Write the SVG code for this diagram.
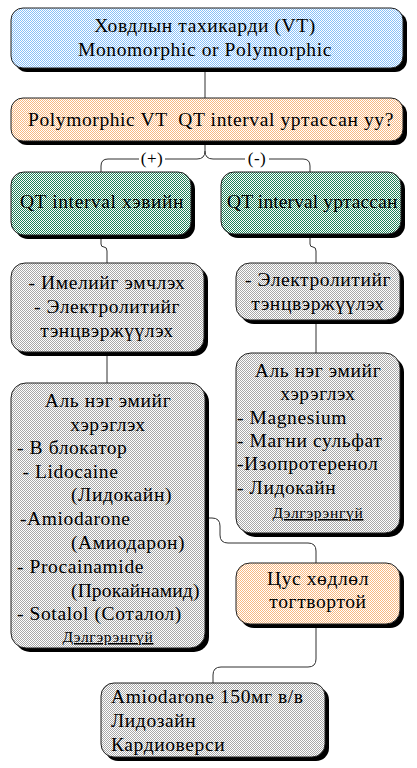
<svg xmlns="http://www.w3.org/2000/svg" width="417" height="768" viewBox="0 0 417 768">
<defs>
<pattern id="pBlue" width="2" height="2" patternUnits="userSpaceOnUse"><rect width="2" height="2" fill="#ffffff"/><rect width="1" height="1" fill="#88c0f8"/><rect x="1" y="1" width="1" height="1" fill="#88c0f8"/></pattern>
<pattern id="pPeach" width="2" height="2" patternUnits="userSpaceOnUse"><rect width="2" height="2" fill="#ffffff"/><rect width="1" height="1" fill="#f8b880"/><rect x="1" y="1" width="1" height="1" fill="#f8b880"/></pattern>
<pattern id="pGreen" width="2" height="2" patternUnits="userSpaceOnUse"><rect width="2" height="2" fill="#ffffff"/><rect width="1" height="1" fill="#1f8058"/><rect x="1" y="1" width="1" height="1" fill="#1f8058"/></pattern>
<pattern id="pGray" width="2" height="2" patternUnits="userSpaceOnUse"><rect width="2" height="2" fill="#ffffff"/><rect width="1" height="1" fill="#a8a8a8"/><rect x="1" y="1" width="1" height="1" fill="#a8a8a8"/></pattern>
</defs>
<style>
.sh{fill:#000}
.bx{stroke:#202020;stroke-width:1}
.blue{fill:url(#pBlue)}
.peach{fill:url(#pPeach)}
.green{fill:url(#pGreen)}
.gray{fill:url(#pGray)}
text{font-family:"Liberation Serif","Times New Roman",serif;font-size:19.5px;letter-spacing:0.6px;fill:#000;white-space:pre}
.c{text-anchor:middle}
.more{font-size:15.5px;letter-spacing:0.7px;text-decoration:underline}
.lbl{font-size:17px;letter-spacing:0.5px}
.conn path{fill:none;stroke:#303030;stroke-width:1}
</style>
<rect width="417" height="768" fill="#fff"/>
<g class="conn" id="connectors">
<path d="M205,68 V98"/>
<path d="M205,141 V151 Q205,159 197,159 H108 Q101,159 101,166 V172"/>
<path d="M205,151 Q205,159 213,159 H303 Q310,159 310,166 V172"/>
<path d="M101,235 V244 Q101,247 104,247 Q107,247 107,251 V263"/>
<path d="M310,234 V244 Q310,247 313,247 Q316,247 316,251 V263"/>
<path d="M107,352 V383"/>
<path d="M316,320 V353"/>
<path d="M205,518 H212 Q220,518 220,526 V535 Q220,543 228,543 H308 Q316,543 316,551 V563"/>
<path d="M316,625 V659 Q316,667 308,667 H221 Q213,667 213,675 V683"/>
<rect x="139" y="150" width="26" height="17" fill="#fff"/>
<rect x="245" y="150" width="24" height="17" fill="#fff"/>
<text class="c lbl" x="152" y="164">(+)</text>
<text class="c lbl" x="257" y="164">(-)</text>
</g>
<g id="n1">
<rect class="sh" x="15" y="12" width="392" height="60" rx="12"/>
<rect class="bx blue" x="11" y="8" width="392" height="60" rx="12"/>
<text class="c" x="205" y="32">Ховдлын тахикарди (VT)</text>
<text class="c" x="205" y="56">Monomorphic or Polymorphic</text>
</g>
<g id="n2">
<rect class="sh" x="15" y="102" width="392" height="43" rx="12"/>
<rect class="bx peach" x="11" y="98" width="392" height="43" rx="12"/>
<text class="c" x="211" y="126" xml:space="preserve">Polymorphic VT  QT interval уртассан уу?</text>
</g>
<g id="n3">
<rect class="sh" x="15" y="176" width="180" height="63" rx="13"/>
<rect class="bx green" x="11" y="172" width="180" height="63" rx="13"/>
<text class="c" x="102" y="208">QT interval хэвийн</text>
</g>
<g id="n4">
<rect class="sh" x="225" y="176" width="180" height="62" rx="13"/>
<rect class="bx green" x="221" y="172" width="180" height="62" rx="13"/>
<text x="227" y="208" textLength="171" lengthAdjust="spacing">QT interval уртассан</text>
</g>
<g id="n5">
<rect class="sh" x="15" y="267" width="193" height="89" rx="14"/>
<rect class="bx gray" x="11" y="263" width="193" height="89" rx="14"/>
<text class="c" x="107" y="289">- Имелийг эмчлэх</text>
<text class="c" x="107" y="313">- Электролитийг</text>
<text class="c" x="107" y="337">тэнцвэржүүлэх</text>
</g>
<g id="n6">
<rect class="sh" x="240" y="267" width="164" height="57" rx="14"/>
<rect class="bx gray" x="236" y="263" width="164" height="57" rx="14"/>
<text class="c" x="318" y="286">- Электролитийг</text>
<text class="c" x="318" y="310">тэнцвэржүүлэх</text>
</g>
<g id="n7">
<rect class="sh" x="15" y="387" width="194" height="265" rx="15"/>
<rect class="bx gray" x="11" y="383" width="194" height="265" rx="15"/>
<text class="c" x="108" y="407">Аль нэг эмийг</text>
<text class="c" x="108" y="431">хэрэглэх</text>
<text x="17" y="454">- В блокатор</text>
<text x="17" y="478" xml:space="preserve"> - Lidocaine</text>
<text x="71" y="501">(Лидокайн)</text>
<text x="20" y="525">-Amiodarone</text>
<text x="71" y="549">(Амиодарон)</text>
<text x="17" y="573">- Procainamide</text>
<text x="71" y="597" textLength="129" lengthAdjust="spacing">(Прокайнамид)</text>
<text x="17" y="620">- Sotalol (Соталол)</text>
<text class="c more" x="108" y="642">Дэлгэрэнгүй</text>
</g>
<g id="n8">
<rect class="sh" x="240" y="357" width="164" height="180" rx="15"/>
<rect class="bx gray" x="236" y="353" width="164" height="180" rx="15"/>
<text class="c" x="318" y="377">Аль нэг эмийг</text>
<text class="c" x="318" y="400">хэрэглэх</text>
<text x="237" y="424">- Magnesium</text>
<text x="237" y="447">- Магни сульфат</text>
<text x="237" y="470">-Изопротеренол</text>
<text x="237" y="494">- Лидокайн</text>
<text class="c more" x="318" y="518">Дэлгэрэнгүй</text>
</g>
<g id="n9">
<rect class="sh" x="240" y="567" width="164" height="61" rx="14"/>
<rect class="bx peach" x="236" y="563" width="164" height="61" rx="14"/>
<text class="c" x="318" y="585">Цус хөдлөл</text>
<text class="c" x="318" y="608">тогтвортой</text>
</g>
<g id="n10">
<rect class="sh" x="105" y="687" width="224" height="74" rx="13"/>
<rect class="bx gray" x="101" y="683" width="224" height="74" rx="13"/>
<text x="111" y="703">Amiodarone 150мг в/в</text>
<text x="111" y="727">Лидозайн</text>
<text x="111" y="751">Кардиоверси</text>
</g>
</svg>
